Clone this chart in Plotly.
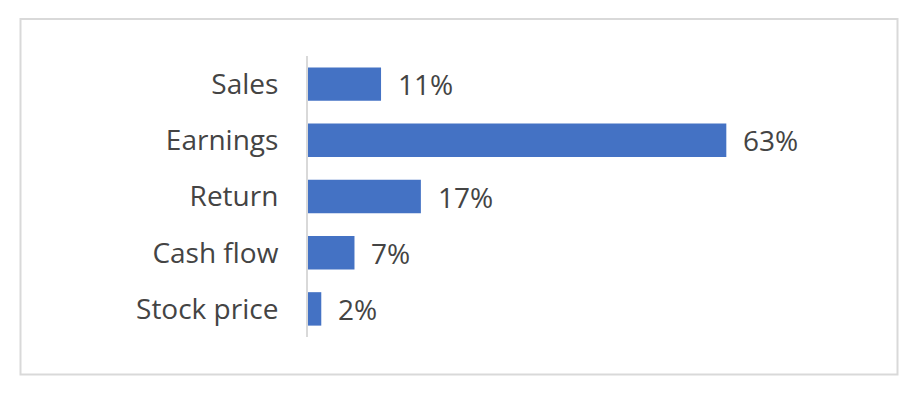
import plotly.graph_objects as go

# data
categories = ["Sales", "Earnings", "Return", "Cash flow", "Stock price"]
shares = [11, 63, 17, 7, 2]
labels = [f"{v}%" for v in shares]

BAR_BLUE = "#4472C4"
TEXT_GREY = "#444444"
LINE_GREY = "#D9D9D9"

W, H = 918, 400
# page body has an 8px margin, so pull everything up/left by that
OFF = 8
left, right = 308 - OFF, 860 - OFF
top, bottom = 55.6 - OFF, 337 - OFF
px_per_pct = 6.64

fig = go.Figure(go.Bar(
    x=shares,
    y=categories,
    orientation="h",
    marker=dict(color=BAR_BLUE, line=dict(width=0)),
    hoverinfo="skip",
))

# value labels just past the bar ends
for cat, val, lab in zip(categories, shares, labels):
    fig.add_annotation(
        x=val, y=cat, text=lab, showarrow=False,
        xanchor="left", yanchor="middle", xshift=15,
        font=dict(size=28, color=TEXT_GREY),
    )

pw = right - left
ph = bottom - top
# outer chart border
fig.add_shape(
    type="rect", xref="paper", yref="paper",
    x0=(20.5 - OFF - left) / pw, x1=(897.5 - OFF - left) / pw,
    y0=(bottom - (374.5 - OFF)) / ph, y1=(bottom - (18.5 - OFF)) / ph,
    line=dict(color=LINE_GREY, width=2),
)

fig.update_layout(
    width=W, height=H,
    margin=dict(l=left, r=W - right, t=top, b=H - bottom, pad=0),
    paper_bgcolor="white", plot_bgcolor="white",
    font=dict(family="Open Sans", size=28, color=TEXT_GREY),
    bargap=0.405,
    showlegend=False,
    xaxis=dict(range=[0, pw / px_per_pct], visible=False, fixedrange=True),
    yaxis=dict(
        autorange="reversed", showgrid=False, zeroline=False,
        showline=True, linecolor=LINE_GREY, linewidth=2,
        ticks="", ticklabelstandoff=22,
        tickfont=dict(size=28, color=TEXT_GREY),
    ),
)

fig.write_html("out.html")
